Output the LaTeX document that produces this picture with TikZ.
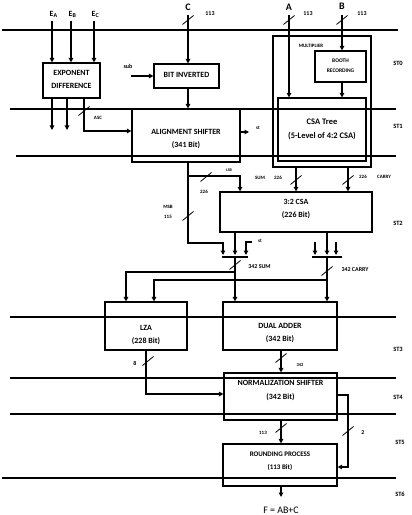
\documentclass[tikz,border=0pt]{standalone}
\usepackage{fontspec}
\setmainfont{Carlito}
\usetikzlibrary{arrows.meta,calc}
\newcommand\fsz[2]{\fontsize{#1}{#2}\selectfont}
\newcommand\bmk[1]{\draw[bmark] ($(#1)+(-5.5,4.5)$) -- ($(#1)+(5.5,-4.5)$);}
\begin{document}
\begin{tikzpicture}[x=1bp,y=-1bp,
  reg/.style={line width=2bp},
  wire/.style={line width=1.1bp},
  bar/.style={line width=1.4bp},
  arr/.style={line width=1.1bp,-{Triangle[length=4.5bp,width=4.5bp]}},
  box/.style={draw,line width=1.1bp,inner sep=0pt},
  txt/.style={inner sep=0pt,align=center,font=\bfseries\fsz{8}{13.5}},
  lbl/.style={inner sep=0pt,font=\bfseries\fsz{6}{6}},
  tiny/.style={inner sep=0pt,font=\bfseries\fsz{5}{5}},
  stl/.style={inner sep=0pt,font=\bfseries\fsz{6.5}{6.5}},
  inp/.style={inner sep=0pt,font=\bfseries\fsz{10}{10}},
  elbl/.style={inner sep=0pt,font=\bfseries\fsz{8}{8}},
  bmark/.style={line width=0.8bp}]
\fill[white] (0,0) rectangle (411,515);
\useasboundingbox (0,0) rectangle (411,515);
% pipeline registers
\draw[reg] (2,30) -- (398,30);
\draw[reg] (10,109) -- (396,109);
\draw[reg] (16,156) -- (396,156);
\draw[reg] (10,317) -- (396,317);
\draw[reg] (10,378) -- (396,378);
\draw[reg] (10,414) -- (396,414);
\draw[reg] (2,478) -- (396,478);
\node[stl] (st0) at (398,63) {ST0};
\node[stl] (st1l) at (398,126) {ST1};
\node[stl] (st2l) at (398,223) {ST2};
\node[stl] (st3l) at (398,349) {ST3};
\node[stl] (st4l) at (398,397) {ST4};
\node[stl] (st5l) at (400,442) {ST5};
\node[stl] (st6l) at (400,494) {ST6};
% boxes
\node[box,minimum width=57bp,minimum height=35bp] (expd) at (71.5,80.5) {};
\node[txt] (expdt) at (71.5,79.5) {EXPONENT\\DIFFERENCE};
\node[box,minimum width=65bp,minimum height=24bp] (binv) at (186.5,76) {};
\node[txt] (binvt) at (186.5,75) {BIT INVERTED};
\node[box,minimum width=108bp,minimum height=53bp] (align) at (186,135.5) {};
\node[txt] (alignt) at (186,139) {ALIGNMENT SHIFTER\\(341 Bit)};
\node[box,minimum width=98bp,minimum height=131bp] (mult) at (322,101.5) {};
\node[inner sep=0pt,font=\bfseries\fsz{5}{5}] (multl) at (311,46) {MULTIPLIER};
\node[box,minimum width=51bp,minimum height=31bp] (booth) at (340.5,66.5) {};
\node[txt,font=\bfseries\fsz{5.5}{10}] (bootht) at (340.5,66) {BOOTH\\RECORDING};
\node[box,minimum width=88bp,minimum height=63bp] (csat) at (322,129.5) {};
\node[txt,font=\bfseries\fsz{8.5}{14}] (csatt) at (322,129) {CSA Tree\\(5-Level of 4:2 CSA)};
\node[box,minimum width=152bp,minimum height=40bp] (csa32) at (296,212) {};
\node[txt] (csa32t) at (296,209) {3:2 CSA\\(226 Bit)};
\node[box,minimum width=82bp,minimum height=48bp] (lza) at (146,326) {};
\node[txt] (lzat) at (146,335) {LZA\\(228 Bit)};
\node[box,minimum width=114bp,minimum height=48bp] (dual) at (280,326) {};
\node[txt] (dualt) at (280,333) {DUAL ADDER\\(342 Bit)};
\node[box,minimum width=113bp,minimum height=47bp] (norm) at (280.5,396.5) {};
\node[txt] (normt) at (280.5,390.5) {NORMALIZATION SHIFTER\\(342 Bit)};
\node[box,minimum width=114bp,minimum height=42bp] (rnd) at (280,465) {};
\node[txt,font=\bfseries\fsz{7}{13}] (rndt) at (280,461.5) {ROUNDING PROCESS\\(113 Bit)};
% exponent inputs
\node[elbl,anchor=base west] (ealbl) at (49.5,16.5) {E\textsubscript{A}};
\node[elbl,anchor=base west] (eblbl) at (68.5,16.5) {E\textsubscript{B}};
\node[elbl,anchor=base west] (eclbl) at (91.5,16.5) {E\textsubscript{C}};
\coordinate (ea) at (52,21); \coordinate (eb) at (71,21); \coordinate (ec) at (94,21);
\draw[arr] (ea) -- (ea |- expd.north);
\draw[arr] (eb) -- (eb |- expd.north);
\draw[arr] (ec) -- (ec |- expd.north);
% exponent outputs
\coordinate (eo1) at (52,130); \coordinate (eo2) at (67,130); \coordinate (asc) at (84,131);
\draw[arr] (eo1 |- expd.south) -- (eo1);
\draw[arr] (eo2 |- expd.south) -- (eo2);
\draw[arr] (asc |- expd.south) -- (asc) -- (asc -| align.west);
\bmk{84,111}
\node[tiny] (ascl) at (98,118) {ASC};
% sub and C
\coordinate (sub) at (131,76);
\draw[arr] (sub) -- (sub -| binv.west);
\node[lbl] (subl) at (128,66) {sub};
\node[inp] (Cl) at (188,7) {C};
\coordinate (c0) at (188,15);
\draw[arr] (c0) -- (c0 |- binv.north);
\bmk{188,20}
\node[lbl] (c113) at (210,14) {113};
\draw[arr] (binv.south -| c0) -- (c0 |- align.north);
\coordinate (st1) at (249,132);
\draw[arr] (st1 -| align.east) -- (st1);
\node[tiny] (st1t) at (258,128) {st};
% A and B
\node[inp] (Al) at (289,7) {A};
\coordinate (a0) at (289,15);
\draw[arr] (a0) -- (a0 |- csat.north);
\bmk{289,20}
\node[lbl] (a113) at (308,14) {113};
\node[inp] (Bl) at (342,6) {B};
\coordinate (b0) at (342,15);
\draw[arr] (b0) -- (b0 |- booth.north);
\bmk{342,20}
\node[lbl] (b113) at (362,14) {113};
\draw[arr] (booth.south -| b0) -- (b0 |- csat.north);
% CSA tree outputs
\coordinate (s0) at (296,0); \coordinate (k0) at (348,0);
\draw[arr] (s0 |- mult.south) -- (s0 |- csa32.north);
\draw[arr] (k0 |- mult.south) -- (k0 |- csa32.north);
\bmk{296,180}
\bmk{348,180}
\node[tiny] (suml) at (260,178) {SUM};
\node[tiny] (s226) at (278,178) {226};
\node[tiny] (k226) at (363,177) {226};
\node[tiny] (carl) at (384,177) {CARRY};
% alignment shifter outputs
\coordinate (m0) at (188,243); \coordinate (l0) at (240,176); \coordinate (sa) at (223,255);
\draw[arr] (align.south -| m0) -- (m0) -| (sa);
\draw[arr] (m0 |- l0) -| (l0 |- csa32.north);
\bmk{206,177}
\node[tiny] (l226) at (204,192) {226};
\node[inner sep=0pt,font=\bfseries\fsz{4}{4}] (lsb) at (229,170) {LSB};
\bmk{188,216}
\node[tiny] (msb) at (168,207) {MSB};
\node[tiny] (m115) at (168,217) {115};
% sum bus
\coordinate (sb) at (235,257);
\draw[arr] (csa32.south -| sb) -- (235,255);
\coordinate (st2) at (246,242); \coordinate (st2e) at (252,242);
\draw[arr] (st2e) -- (st2) -- (st2 |- sa);
\node[tiny] (st2t) at (260,241) {st};
\draw[bar] (222,257) -- (248,257);
\draw[arr] (sb) -- (sb |- dual.north);
\coordinate (lz1) at (126,272);
\draw[arr] (sb |- lz1) -- (lz1) -- (lz1 |- lza.north);
\bmk{235,265}
\node[lbl] (sum342) at (259.5,267) {342 SUM};
% carry bus
\coordinate (cb) at (327,257);
\draw[arr] (csa32.south -| cb) -- (327,255);
\coordinate (cl) at (315,242); \coordinate (cr) at (336,242);
\draw[arr] (cl) -- (315,255);
\draw[arr] (cr) -- (336,255);
\draw[bar] (312,257) -- (342,257);
\draw[arr] (cb) -- (cb |- dual.north);
\coordinate (lz2) at (154,280);
\draw[arr] (cb |- lz2) -- (lz2) -- (lz2 |- lza.north);
\bmk{327,271}
\node[lbl] (car342) at (355,270) {342 CARRY};
% LZA / dual outputs
\coordinate (z0) at (146,394);
\draw[arr] (lza.south -| z0) -- (z0) -- (z0 -| norm.west);
\bmk{148,361}
\node[lbl] (eight) at (135,363) {8};
\coordinate (d0) at (281,0);
\draw[arr] (dual.south -| d0) -- (d0 |- norm.north);
\bmk{281,358}
\node[inner sep=0pt,font=\bfseries\fsz{4.5}{4.5}] (d342) at (300,365) {342};
% normalization outputs
\coordinate (n1) at (348,395); \coordinate (n2) at (348,467);
\draw[arr] (n1 -| norm.east) -- (n1) -- (n2) -- (n2 -| rnd.east);
\bmk{348,431}
\node[lbl] (two) at (363,433) {2};
\draw[arr] (norm.south -| d0) -- (d0 |- rnd.north);
\bmk{281,428}
\node[tiny] (r113) at (263,433) {113};
\coordinate (f0) at (281,497);
\draw[arr] (rnd.south -| f0) -- (f0);
\node[inner sep=0pt,font=\fsz{10}{10}] (F) at (281,510) {F = AB+C};
\end{tikzpicture}
\end{document}
